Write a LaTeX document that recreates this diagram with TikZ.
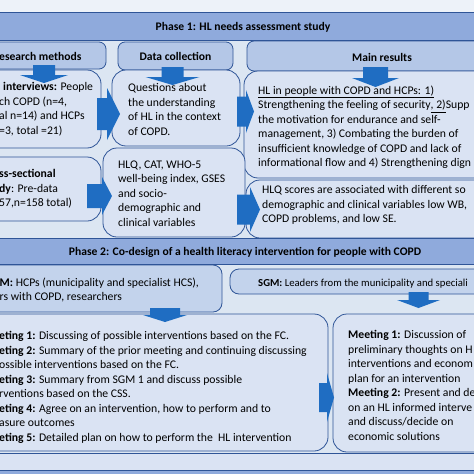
\documentclass[tikz,border=0pt]{standalone}
\usepackage{fontspec}
\setmainfont{Carlito}
\definecolor{pagebg}{HTML}{DCE6F2}
\definecolor{topbg}{HTML}{EDF2F9}
\definecolor{bandblue}{HTML}{8FAADC}
\definecolor{headblue}{HTML}{B4C7E7}
\definecolor{bodyblue}{HTML}{DAE3F3}
\definecolor{sgmblue}{HTML}{C3D3EC}
\definecolor{boxline}{HTML}{2F5597}
\definecolor{arrowblue}{HTML}{1F6DC2}

\tikzset{
  band/.style={draw=boxline, line width=0.8pt, fill=bandblue, inner sep=0pt},
  headbox/.style={draw=boxline, line width=0.8pt, fill=headblue, rounded corners=7pt, inner sep=0pt},
  bodybox/.style={draw=boxline, line width=0.8pt, fill=bodyblue, rounded corners=14pt, inner sep=0pt},
  sgmbox/.style={draw=boxline, line width=0.8pt, fill=sgmblue, rounded corners=9pt, inner sep=0pt},
  txt/.style={anchor=north west, inner sep=0pt, align=left, font=\fontsize{11.7}{14.5}\selectfont},
  headtxt/.style={inner sep=0pt, font=\fontsize{11.6}{13}\selectfont\bfseries},
}
% block arrows: right (x0, yc, shaft, head, half shaft, half head), down (xc, y0, ...)
\newcommand{\rblock}[6]{\fill[arrowblue] (#1,#2-#5) -- (#1+#3,#2-#5) -- (#1+#3,#2-#6) -- (#1+#3+#4,#2) -- (#1+#3,#2+#6) -- (#1+#3,#2+#5) -- (#1,#2+#5) -- cycle;}
\newcommand{\dblock}[6]{\fill[arrowblue] (#1-#5,#2) -- (#1+#5,#2) -- (#1+#5,#2+#3) -- (#1+#6,#2+#3) -- (#1,#2+#3+#4) -- (#1-#6,#2+#3) -- (#1-#5,#2+#3) -- cycle;}

\begin{document}
\begin{tikzpicture}[x=1pt, y=-1pt]
\useasboundingbox (0,0) rectangle (474,474);
\clip (0,0) rectangle (474,474);
\fill[pagebg] (0,0) rectangle (474,474);
\fill[topbg] (0,0) rectangle (474,12);

% phase 1
\node[band, minimum width=494, minimum height=28] (ph1) at (237,26) {};
\node[headtxt] (ph1txt) at (243,27) {Phase 1: HL needs assessment study};

\node[headbox, minimum width=126, minimum height=27] (hres) at (43,55.5) {};
\node[headbox, minimum width=115, minimum height=28] (hdat) at (175.5,56) {};
\node[headbox, minimum width=253, minimum height=30] (hmain) at (373.5,56) {};
\node[headtxt, anchor=west] (hrestxt) at (-1,56) {esearch methods};
\node[headtxt] (hdattxt) at (hdat) {Data collection};
\node[headtxt] (hmaintxt) at (382,57) {Main results};

\node[bodybox, minimum width=121, minimum height=78] (bintv) at (40.5,109) {};
\node[bodybox, minimum width=128, minimum height=76] (bdat1) at (176,108) {};
\node[bodybox, minimum width=256, minimum height=107] (bmain1) at (372,124.5) {};
\node[bodybox, minimum width=121, minimum height=64] (bcross) at (40.5,189) {};
\node[bodybox, minimum width=142, minimum height=89] (bdat2) at (174,192.5) {};
\node[bodybox, minimum width=254, minimum height=58] (bmain2) at (373,209) {};

\node[txt] (tintv) at (-1,82.5) {\hspace*{4pt}\textbf{interviews:} People\\ch COPD (n=4,\\al n=14) and HCPs\\=3, total =21)};
\node[txt] (tdat1) at (128,83.5) {Questions about\\the understanding\\of HL in the context\\of COPD.};
\node[txt] (tmain1) at (258,85.5) {\underline{HL in people with COPD and HCPs: 1)}\\Strengthening the feeling of security\underline{, 2)}Supp\\the motivation for endurance and self-\\management, 3) Combating the burden of\\insufficient knowledge of COPD and lack of\\informational flow and 4) Strengthening dign};
\node[txt] (tcross) at (-1,169.5) {\textbf{ss-sectional}\\\textbf{dy}: Pre-data\\57,n=158 total)};
\node[txt] (tdat2) at (118,160.5) {HLQ, CAT, WHO-5\\well-being index, GSES\\and socio-\\demographic and\\clinical variables};
\node[txt] (tmain2) at (262,185.5) {HLQ scores are associated with different so\\demographic and clinical variables low WB,\\COPD problems, and low SE.};

% phase 2
\node[band, minimum width=494, minimum height=26] (ph2) at (237,251.5) {};
\node[headtxt] (ph2txt) at (245,252) {Phase 2: Co-design of a health literacy intervention for people with COPD};

\node[sgmbox, minimum width=242, minimum height=47] (sgm1) at (101,288.5) {};
\node[sgmbox, minimum width=270, minimum height=25] (sgm2) at (365,281.5) {};
\node[txt] (tsgm1) at (-0.5,277.5) {\textbf{M:} HCPs (municipality and specialist HCS),\\rs with COPD, researchers};
\node[txt, font=\fontsize{10.7}{13}\selectfont] (tsgm2) at (258,278.5) {\textbf{SGM:} Leaders from the municipality and speciali};

\node[bodybox, minimum width=348, minimum height=137] (bmeet1) at (154,382.5) {};
\node[bodybox, minimum width=167, minimum height=138] (bmeet2) at (416.5,383) {};
\node[txt] (tmeet1) at (-1,331.5) {\textbf{eting 1:} Discussing of possible interventions based on the FC.\\\textbf{eting 2:} Summary of the prior meeting and continuing discussing\\ossible interventions based on the FC.\\\textbf{eting 3:} Summary from SGM 1 and discuss possible\\rventions based on the CSS.\\\textbf{eting 4:} Agree on an intervention, how to perform and to\\asure outcomes\\\textbf{eting 5:} Detailed plan on how to perform the\ \ HL intervention};
\node[txt] (tmeet2) at (348,330.5) {\textbf{Meeting 1:} Discussion of\\preliminary thoughts on H\\interventions and econom\\plan for an intervention\\\textbf{Meeting 2:} Present and de\\on an HL informed interve\\and discuss/decide on\\economic solutions};

% bottom strip
\fill[bodyblue] (0,453) rectangle (474,470);
\fill[bandblue] (0,470) rectangle (474,474);
\draw[boxline, line width=0.8pt] (0,453) -- (474,453);
\draw[boxline, line width=0.8pt] (0,470) -- (474,470);

% arrows
\dblock{44}{65}{10}{8}{11}{24}
\dblock{172.5}{67}{10}{8}{11}{27}
\dblock{375.5}{67}{11}{9}{12.5}{23.5}
\dblock{165}{308}{7}{7}{15}{22}
\dblock{418.5}{292}{8}{8}{10}{21.5}
\rblock{97}{114}{10}{13}{16}{26}
\rblock{237}{111.5}{9}{8}{15}{21.5}
\rblock{87}{196}{15}{10}{12}{19}
\rblock{237}{209.5}{13}{10}{15}{22.5}
\rblock{319}{397.5}{8}{7}{14.5}{24.5}
\end{tikzpicture}
\end{document}
